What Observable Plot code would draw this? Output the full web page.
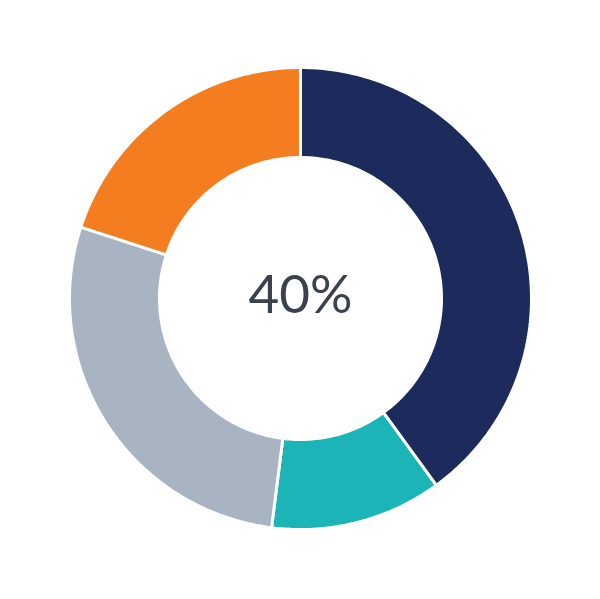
<!DOCTYPE html>
<html>
<head>
<meta charset="utf-8">
<script src="https://cdn.jsdelivr.net/npm/d3@7"></script>
<script src="https://cdn.jsdelivr.net/npm/@observablehq/plot@0.6"></script>
<style>
  html, body { margin: 0; padding: 0; background: #ffffff; }
  #chart { width: 600px; height: 599px; }
</style>
</head>
<body>
<div id="chart"></div>
<script>
const categories = ["A", "B", "C", "D"];
const values = [40, 12, 28, 20];
const colors = ["#1c2b5b", "#1bb5b8", "#a9b4c3", "#f47d20"];
const centerLabel = "40%";

const W = 600, H = 599;
const R = 231;            // outer radius in px
const innerRatio = 141 / 231;
const cx = 300, cy = 298;

const pie = d3.pie().sort(null).value(d => d.value)(
  categories.map((c, i) => ({ category: c, value: values[i] }))
);

// Build polygon outline for each slice in unit data coordinates
const pts = [];
pie.forEach(s => {
  const n = Math.max(8, Math.ceil((s.endAngle - s.startAngle) / (Math.PI / 180)));
  for (let k = 0; k <= n; k++) {
    const a = s.startAngle + (s.endAngle - s.startAngle) * k / n;
    pts.push({ category: s.data.category, x: Math.sin(a), y: Math.cos(a) });
  }
  for (let k = n; k >= 0; k--) {
    const a = s.startAngle + (s.endAngle - s.startAngle) * k / n;
    pts.push({ category: s.data.category, x: innerRatio * Math.sin(a), y: innerRatio * Math.cos(a) });
  }
});

const chart = Plot.plot({
  width: W,
  height: H,
  margin: 0,
  x: { domain: [-cx / R, (W - cx) / R], axis: null },
  y: { domain: [-(H - cy) / R, cy / R], axis: null },
  color: { domain: categories, range: colors },
  marks: [
    Plot.line(pts, {
      x: "x", y: "y", z: "category",
      fill: "category",
      stroke: "#ffffff",
      strokeWidth: 3,
      strokeLinejoin: "miter",
      curve: "linear-closed"
    }),
    Plot.text([centerLabel], {
      x: () => 0, y: () => 0,
      text: d => d,
      fontSize: 53,
      fill: "#3b424e",
      dy: -2,
      fontFamily: "Lato, 'Open Sans', sans-serif",
      textAnchor: "middle",
      lineAnchor: "middle"
    })
  ],
  style: { background: "#ffffff" }
});
document.getElementById("chart").appendChild(chart);
</script>
</body>
</html>
